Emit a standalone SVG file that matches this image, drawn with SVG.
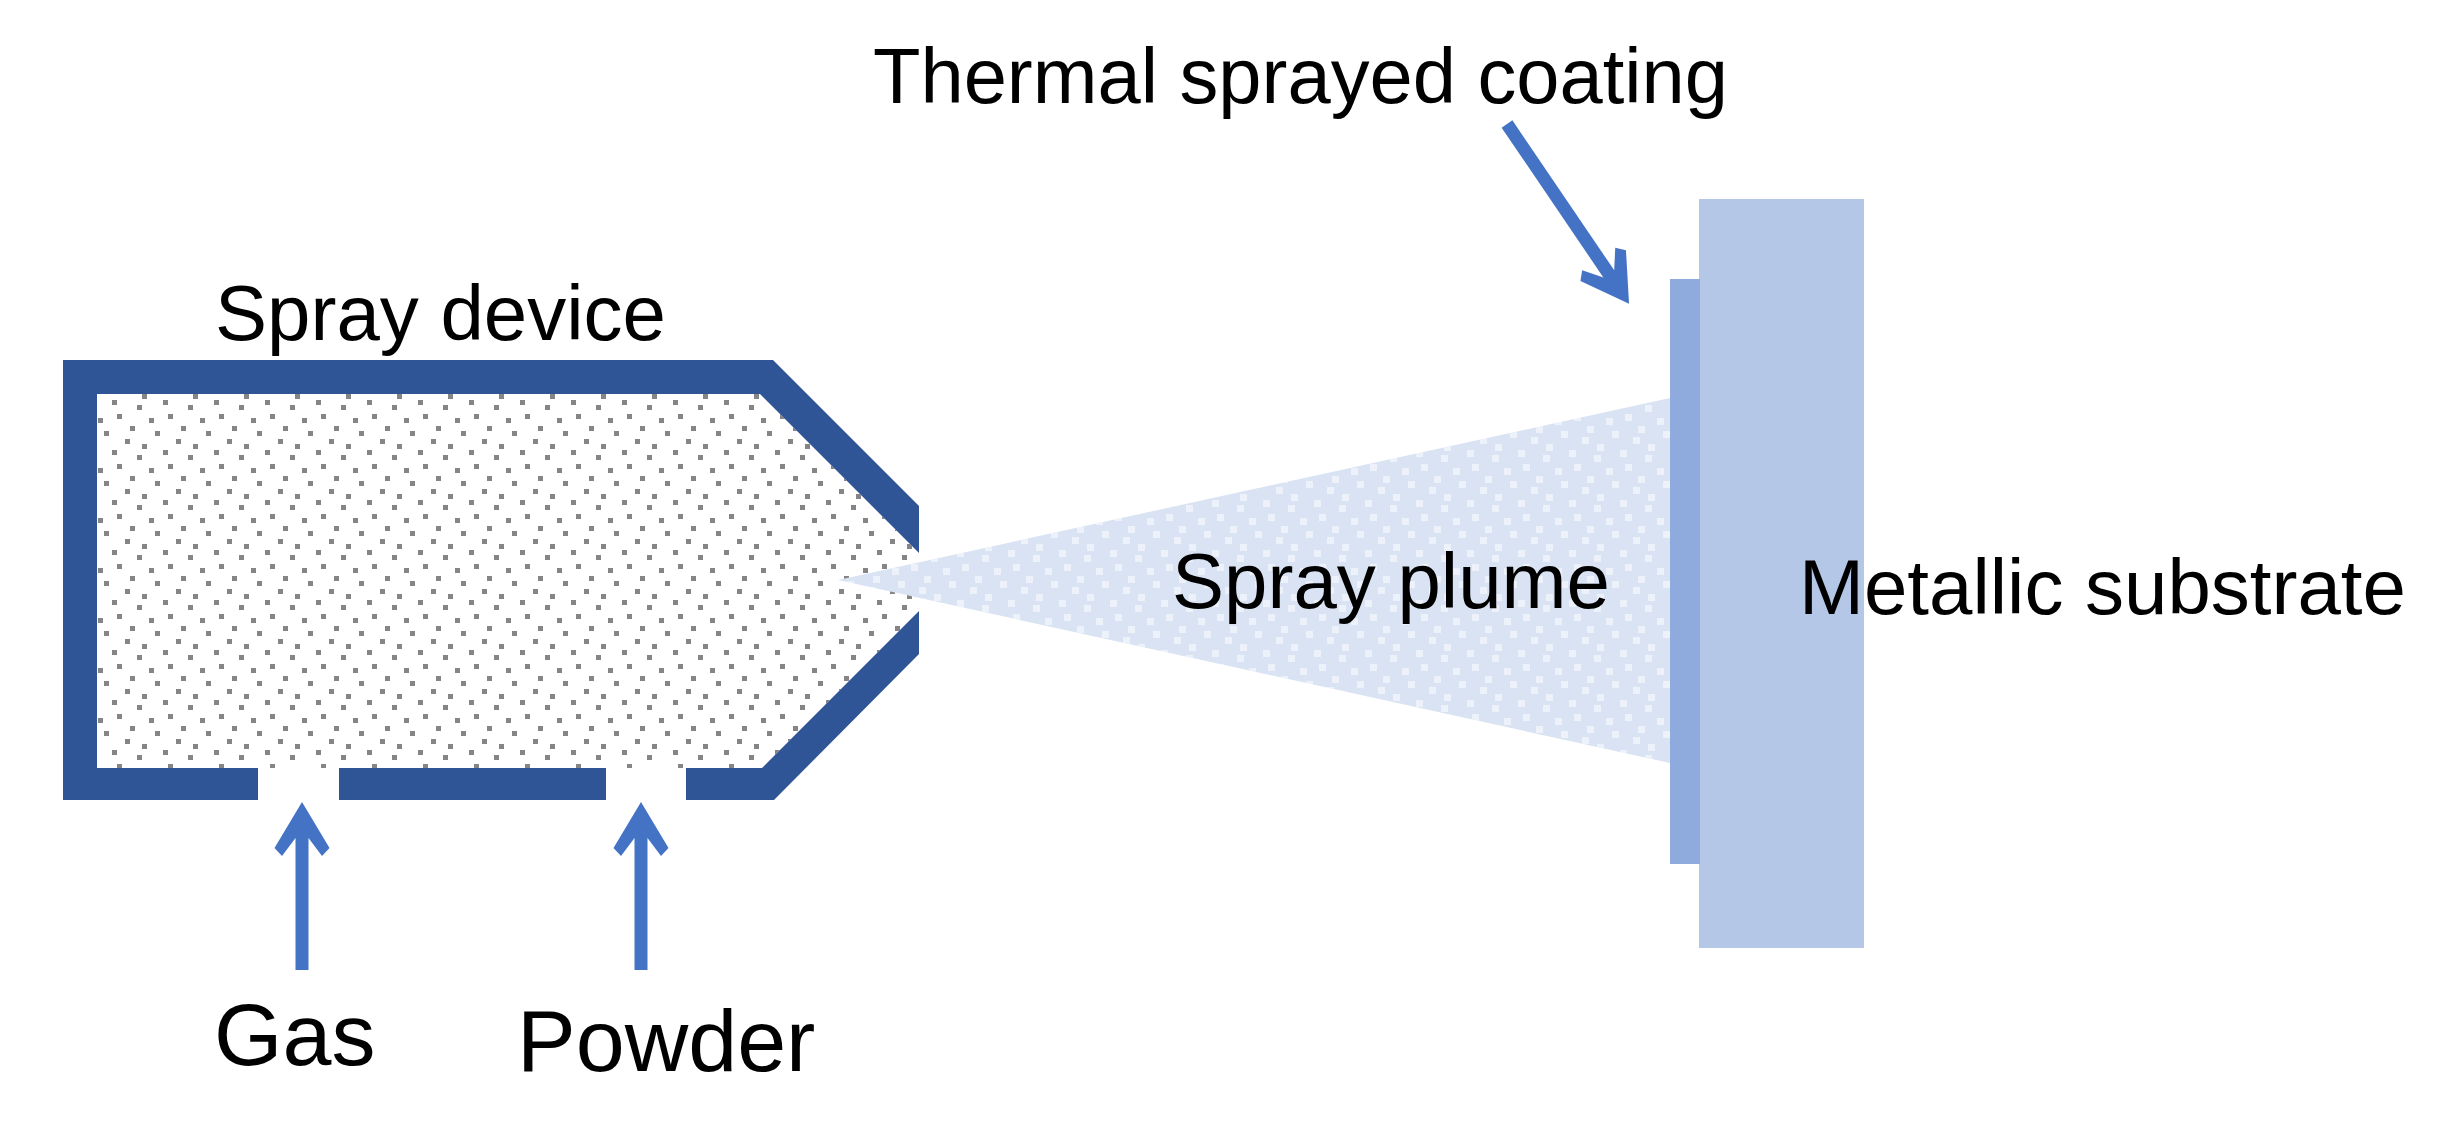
<svg xmlns="http://www.w3.org/2000/svg" width="2456" height="1128" viewBox="0 0 2456 1128">
<style>
text{font-family:"Liberation Sans",Arial,sans-serif;fill:#000}
.s{font-size:78px}
.t{font-size:77.7px}
.b{font-size:88px}
.arrow{stroke:#4472c4;stroke-width:13;fill:none;marker-end:url(#head)}
.frame{fill:#2f5597}
</style>
<defs>
<marker id="head" markerUnits="userSpaceOnUse" markerWidth="60" markerHeight="60" refX="30" refY="30" orient="auto" viewBox="0 0 60 60">
<path d="M55,30 L9,2.5 L1,10 L19,23.5 L19,36.5 L1,50 L9,57.5 Z" fill="#4472c4"/>
</marker>
<pattern id="grey" patternUnits="userSpaceOnUse" x="97" y="394" width="51" height="50">
<g fill="#858585"><rect x="15" y="6" width="5" height="5"/><rect x="45" y="0" width="5" height="5"/><rect x="40" y="11" width="5" height="5"/><rect x="20" y="20" width="5" height="5"/><rect x="1" y="24" width="5" height="5"/><rect x="33" y="32" width="5" height="5"/><rect x="7" y="37" width="5" height="5"/><rect x="28" y="45" width="5" height="5"/></g>
</pattern>
<pattern id="white" patternUnits="userSpaceOnUse" x="840" y="394" width="51" height="50">
<g fill="#fff" fill-opacity=".5"><rect x="15" y="6" width="7" height="7"/><rect x="43" y="0" width="7" height="7"/><rect x="40" y="11" width="7" height="7"/><rect x="20" y="20" width="7" height="7"/><rect x="1" y="24" width="7" height="7"/><rect x="33" y="32" width="7" height="7"/><rect x="7" y="37" width="7" height="7"/><rect x="28" y="43" width="7" height="7"/></g>
</pattern>
</defs>
<rect width="2456" height="1128" fill="#fff"/>
<g id="spray-device">
<path d="M97,394 H760 L919,553 V611 L762,768 H97 Z" fill="#fff"/>
<path d="M97,394 H760 L919,553 V611 L762,768 H97 Z" fill="url(#grey)"/>
<path class="frame" d="M63,360 H773 L919,506 V553 L760,394 H97 V768 H258 V800 H63 Z"/>
<path class="frame" d="M339,768 H606 V800 H339 Z"/>
<path class="frame" d="M686,768 H762 L919,611 V654 L774,800 H686 Z"/>
<text class="s" x="215" y="340">Spray device</text>
</g>
<g id="spray-plume">
<path d="M838,580 L1670,398 V763 Z" fill="#dae3f3"/>
<path d="M838,580 L1670,398 V763 Z" fill="url(#white)"/>
<text class="s" x="1172" y="608">Spray plume</text>
</g>
<g id="metallic-substrate">
<rect x="1699" y="199" width="165" height="749" fill="#b4c7e7"/>
<text class="s" x="1799" y="614">Metallic substrate</text>
</g>
<g id="thermal-sprayed-coating">
<rect x="1670" y="279" width="30" height="585" fill="#8faadc"/>
<text class="t" x="873" y="103">Thermal sprayed coating</text>
</g>
<g id="gas"><text class="b" x="214" y="1065">Gas</text></g>
<g id="powder"><text class="b" x="517" y="1071">Powder</text></g>
<g id="connectors">
<line class="arrow" x1="302" y1="970" x2="302" y2="827"/>
<line class="arrow" x1="641" y1="970" x2="641" y2="827"/>
<line class="arrow" x1="1507" y1="124" x2="1615" y2="283"/>
</g>
</svg>
